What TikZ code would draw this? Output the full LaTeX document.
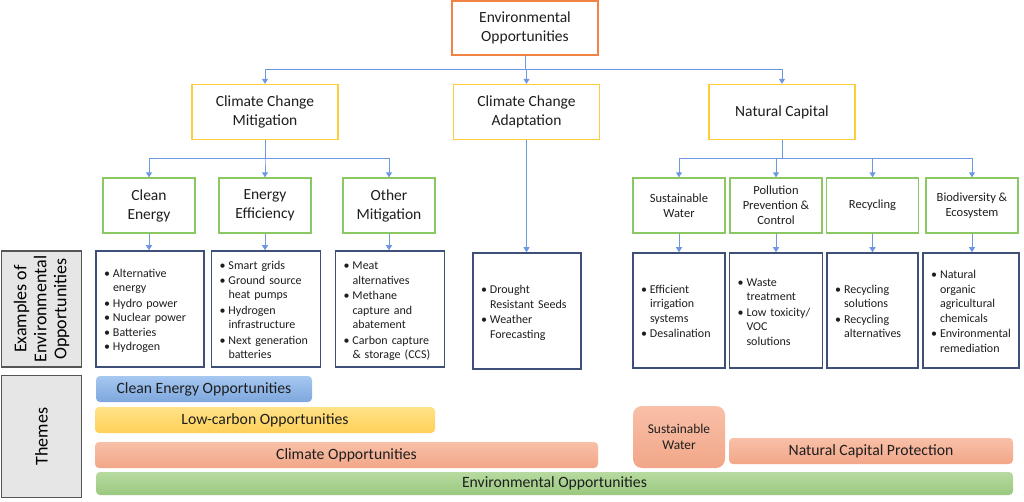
\documentclass[tikz,border=0pt]{standalone}
\usepackage{fontspec}
\setmainfont{Carlito}
\usetikzlibrary{arrows.meta,calc,positioning}

\definecolor{linkblue}{RGB}{108,152,226}
\definecolor{topedge}{RGB}{240,132,70}
\definecolor{midedge}{RGB}{255,204,60}
\definecolor{subedge}{RGB}{138,200,100}
\definecolor{exedge}{RGB}{62,80,120}
\definecolor{lblfill}{RGB}{231,230,230}
\definecolor{lbledge}{RGB}{85,85,85}
\definecolor{txtgray}{RGB}{30,30,30}

% bullet item, continuation lines hang under the text
\newcommand{\bitem}[1]{\par\noindent\strut\hbox to 9pt{\textbullet\hss}\begin{tabular}[t]{@{}l@{}}#1\end{tabular}\par}

\begin{document}
\begin{tikzpicture}[x=1pt,y=-1pt,
  box/.style={draw, line width=1.3pt, fill=white, align=center, inner sep=2pt, text=txtgray},
  topbox/.style={box, draw=topedge, minimum width=146pt, minimum height=54pt, font=\fontsize{15.5}{19}\selectfont},
  midbox/.style={box, draw=midedge, minimum width=146pt, minimum height=55pt, font=\fontsize{15.5}{19}\selectfont},
  subbox/.style={box, draw=subedge, minimum width=92pt, minimum height=55pt, font=\fontsize{15.5}{19}\selectfont},
  subsmall/.style={subbox, font=\fontsize{12.5}{15}\selectfont},
  exbox/.style={box, draw=exedge, line width=1.5pt, minimum height=116pt, inner xsep=8pt, align=left, font=\fontsize{12}{14.5}\selectfont},
  lblbox/.style={draw=lbledge, line width=1.3pt, fill=lblfill, align=center, rotate=90, minimum height=80pt, text=black, font=\fontsize{18}{20}\selectfont},
  bar/.style={rounded corners=4pt, inner sep=0pt, align=center, text=txtgray, font=\fontsize{15.7}{18}\selectfont},
  link/.style={draw=linkblue, line width=1pt, -{Triangle[width=6pt,length=5pt]}}]

  \useasboundingbox (0,0) rectangle (1024,502);

  % tree
  \node[topbox] (env) at (525,28) {Environmental\\Opportunities};

  \node[midbox] (ccm) at (265,112) {Climate Change\\Mitigation};
  \node[midbox] (cca) at (526.5,112) {Climate Change\\Adaptation};
  \node[midbox] (nat) at (782,112) {Natural Capital};

  \node[subbox] (clean) at (149,205.5) {Clean\\Energy};
  \node[subbox] (eff)   at (265,205.5) {Energy\\Efficiency};
  \node[subbox] (oth)   at (389,205.5) {Other\\Mitigation};

  \node[subsmall] (swat) at (679,205.5) {Sustainable\\Water};
  \node[subsmall] (poll) at (776,205.5) {Pollution\\Prevention \&\\Control};
  \node[subsmall] (recy) at (872.5,205.5) {Recycling};
  \node[subsmall] (bio)  at (972,205.5) {Biodiversity \&\\Ecosystem};

  \coordinate (busA) at (525,70);
  \coordinate (busB) at (265,159);
  \coordinate (busC) at (782,159);

  \draw[link] (env.south) -- (busA) -| (ccm.north);
  \draw[link] (env.south) -- (busA) -| (cca.north);
  \draw[link] (env.south) -- (busA) -| (nat.north);

  \foreach \n in {clean,eff,oth}
    \draw[link] (ccm.south) -- (busB) -| (\n.north);
  \foreach \n in {swat,poll,recy,bio}
    \draw[link] (nat.south) -- (busC) -| (\n.north);

  % examples
  \node[exbox, minimum width=108pt, text width=92pt] (ex1) at (150,309) {%
    \bitem{Alternative\\ energy}
    \bitem{Hydro power}
    \bitem{Nuclear power}
    \bitem{Batteries}
    \bitem{Hydrogen}};
  \node[exbox, minimum width=109pt, text width=93pt] (ex2) at (266,309) {%
    \bitem{Smart grids}
    \bitem{Ground source\\ heat pumps}
    \bitem{Hydrogen\\ infrastructure}
    \bitem{Next generation\\ batteries}};
  \node[exbox, minimum width=109pt, text width=93pt] (ex3) at (390,309) {%
    \bitem{Meat\\ alternatives}
    \bitem{Methane\\ capture and\\ abatement}
    \bitem{Carbon capture\\ \& storage (CCS)}};
  \node[exbox, minimum width=108pt, text width=92pt] (ex4) at (527,311) {%
    \bitem{Drought\\ Resistant Seeds}
    \bitem{Weather\\ Forecasting}};
  \node[exbox, minimum width=92pt, minimum height=115pt, text width=76pt] (ex5) at (679,310.5) {%
    \bitem{Efficient\\ irrigation\\ systems}
    \bitem{Desalination}};
  \node[exbox, minimum width=93pt, minimum height=115pt, text width=77pt] (ex6) at (776,310.5) {%
    \bitem{Waste\\ treatment}
    \bitem{Low toxicity/\\ VOC\\ solutions}};
  \node[exbox, minimum width=91pt, minimum height=115pt, text width=75pt] (ex7) at (872.5,310.5) {%
    \bitem{Recycling\\ solutions}
    \bitem{Recycling\\ alternatives}};
  \node[exbox, minimum width=96pt, minimum height=115pt, text width=80pt] (ex8) at (971,310.5) {%
    \bitem{Natural\\ organic\\ agricultural\\ chemicals}
    \bitem{Environmental\\ remediation}};

  \draw[link] (clean.south) -- (clean.south |- ex1.north);
  \draw[link] (eff.south) -- (eff.south |- ex2.north);
  \draw[link] (oth.south) -- (oth.south |- ex3.north);
  \draw[link] (cca.south) -- (cca.south |- ex4.north);
  \draw[link] (swat.south) -- (swat.south |- ex5.north);
  \draw[link] (poll.south) -- (poll.south |- ex6.north);
  \draw[link] (recy.south) -- (recy.south |- ex7.north);
  \draw[link] (bio.south) -- (bio.south |- ex8.north);

  % row labels
  \node[lblbox, minimum width=116pt] (lblex) at (41.5,309) {Examples of\\Environmental\\Opportunities};
  \node[lblbox, minimum width=122pt] (lblth) at (41.5,436.5) {Themes};

  % themes
  \node[bar, top color={rgb,255:red,166;green,200;blue,240}, bottom color={rgb,255:red,126;green,167;blue,222},
        minimum width=216pt, minimum height=26pt] (thclean) at (204,389) {Clean Energy Opportunities};
  \node[bar, top color={rgb,255:red,255;green,226;blue,135}, bottom color={rgb,255:red,255;green,208;blue,88},
        minimum width=340pt, minimum height=26pt] (thlow) at (265,420) {Low-carbon Opportunities};
  \node[bar, top color={rgb,255:red,248;green,192;blue,168}, bottom color={rgb,255:red,242;green,166;blue,136},
        minimum width=503pt, minimum height=26pt] (thclim) at (346.5,455) {Climate Opportunities};
  \node[bar, rounded corners=9pt, top color={rgb,255:red,248;green,192;blue,168}, bottom color={rgb,255:red,242;green,166;blue,136},
        minimum width=92pt, minimum height=62pt, font=\fontsize{13.4}{16}\selectfont] (thwat) at (679,437) {Sustainable\\Water};
  \node[bar, top color={rgb,255:red,248;green,192;blue,168}, bottom color={rgb,255:red,242;green,166;blue,136},
        minimum width=284pt, minimum height=26pt] (thnat) at (871,451) {Natural Capital Protection};
  \node[bar, top color={rgb,255:red,182;green,218;blue,160}, bottom color={rgb,255:red,155;green,200;blue,126},
        minimum width=917pt, minimum height=23pt] (thenv) at (554.5,483.5) {Environmental Opportunities};
\end{tikzpicture}
\end{document}
